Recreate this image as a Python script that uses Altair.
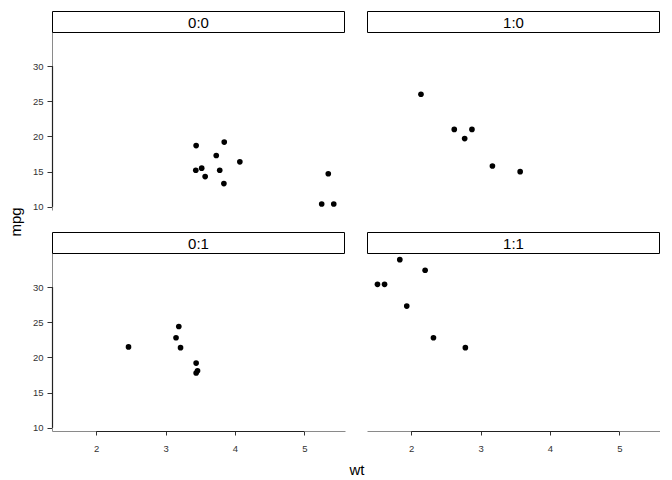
import altair as alt
import pandas as pd

# ---- data (mtcars, faceted by am:vs) ----
labels = ["0:0", "1:0", "0:1", "1:1"]

wt_00 = [3.44, 3.57, 4.07, 3.73, 3.78, 5.25, 5.424, 5.345, 3.52, 3.435, 3.84, 3.845]
mpg_00 = [18.7, 14.3, 16.4, 17.3, 15.2, 10.4, 10.4, 14.7, 15.5, 15.2, 13.3, 19.2]

wt_10 = [2.62, 2.875, 2.14, 3.17, 2.77, 3.57]
mpg_10 = [21.0, 21.0, 26.0, 15.8, 19.7, 15.0]

wt_01 = [3.215, 3.46, 3.19, 3.15, 3.44, 3.44, 2.465]
mpg_01 = [21.4, 18.1, 24.4, 22.8, 19.2, 17.8, 21.5]

wt_11 = [2.32, 2.2, 1.615, 1.835, 1.935, 1.513, 2.78]
mpg_11 = [22.8, 32.4, 30.4, 33.9, 27.3, 30.4, 21.4]

x_ticks = [2, 3, 4, 5]
y_ticks = [10, 15, 20, 25, 30]

x_dom = [1.362, 5.586]
y_dom = [9.55, 34.85]

W, H, STRIP = 293, 199, 21
FONT = "Liberation Sans"


def panel(label, wts, mpgs, show_y, show_x, y_title=False, x_title=False):
    df = pd.DataFrame({"wt": wts, "mpg": mpgs})
    xscale = alt.Scale(domain=x_dom, nice=False, zero=False)
    yscale = alt.Scale(domain=y_dom, range=[H, STRIP], nice=False, zero=False)

    if show_x:
        xaxis = alt.Axis(
            values=x_ticks, tickSize=4, labelPadding=8, format="d",
            title="wt" if x_title else None,
            titleX=304.5, titleY=38, titleAlign="center", titleBaseline="middle",
        )
    else:
        xaxis = None
    if show_y:
        yaxis = alt.Axis(
            values=y_ticks, tickSize=5, labelPadding=4, format="d",
            title="mpg" if y_title else None,
            titleX=-37, titleY=210.5, titleAngle=270,
            titleAlign="center", titleBaseline="middle",
        )
    else:
        yaxis = None

    strip_df = pd.DataFrame({"label": [label]})
    rect = alt.Chart(strip_df).mark_rect(
        fill="white", stroke="black", strokeWidth=1, cornerRadius=0, strokeJoin="miter"
    ).encode(x=alt.value(0.5), x2=alt.value(W - 0.5), y=alt.value(0.5), y2=alt.value(STRIP + 0.5))
    txt = alt.Chart(strip_df).mark_text(
        font=FONT, fontSize=15, color="black", baseline="middle", align="center"
    ).encode(text="label:N", x=alt.value(W / 2), y=alt.value(STRIP / 2 + 1))

    layers = [rect, txt]

    if show_y:
        ry = pd.DataFrame({"lo": [min(y_ticks)], "hi": [max(y_ticks)]})
        layers.append(
            alt.Chart(ry).mark_rule(color="#222222", strokeWidth=1.2).encode(
                x=alt.value(0.5),
                y=alt.Y("lo:Q", scale=yscale, axis=yaxis),
                y2="hi:Q",
            )
        )
    if show_x:
        rx = pd.DataFrame({"lo": [min(x_ticks)], "hi": [max(x_ticks)]})
        layers.append(
            alt.Chart(rx).mark_rule(color="#222222", strokeWidth=1.2).encode(
                y=alt.value(H + 0.5),
                x=alt.X("lo:Q", scale=xscale, axis=xaxis),
                x2="hi:Q",
            )
        )

    pts = alt.Chart(df).mark_circle(size=32, color="black", opacity=1).encode(
        x=alt.X("wt:Q", scale=xscale, axis=xaxis),
        y=alt.Y("mpg:Q", scale=yscale, axis=yaxis),
    )
    layers.append(pts)
    return alt.layer(*layers).properties(width=W, height=H)


p00 = panel(labels[0], wt_00, mpg_00, show_y=True, show_x=False, y_title=True)
p10 = panel(labels[1], wt_10, mpg_10, show_y=False, show_x=False)
p01 = panel(labels[2], wt_01, mpg_01, show_y=True, show_x=True, x_title=True)
p11 = panel(labels[3], wt_11, mpg_11, show_y=False, show_x=True)

chart = alt.concat(p00, p10, p01, p11, columns=2, spacing=22, bounds="flush").properties(
    padding={"left": 0, "top": 3, "right": 0, "bottom": 0},
    background="white",
).configure_view(stroke=None).configure_axis(
    grid=False,
    labelFont=FONT, labelFontSize=9.5, labelColor="#333333",
    tickColor="#333333", tickWidth=1,
    domainColor="#8A8A8A", domainWidth=1,
    titleFont=FONT, titleFontSize=15, titleColor="black", titleFontWeight="normal",
)

chart.save("out.html", embed_options={"renderer": "svg", "actions": False})
